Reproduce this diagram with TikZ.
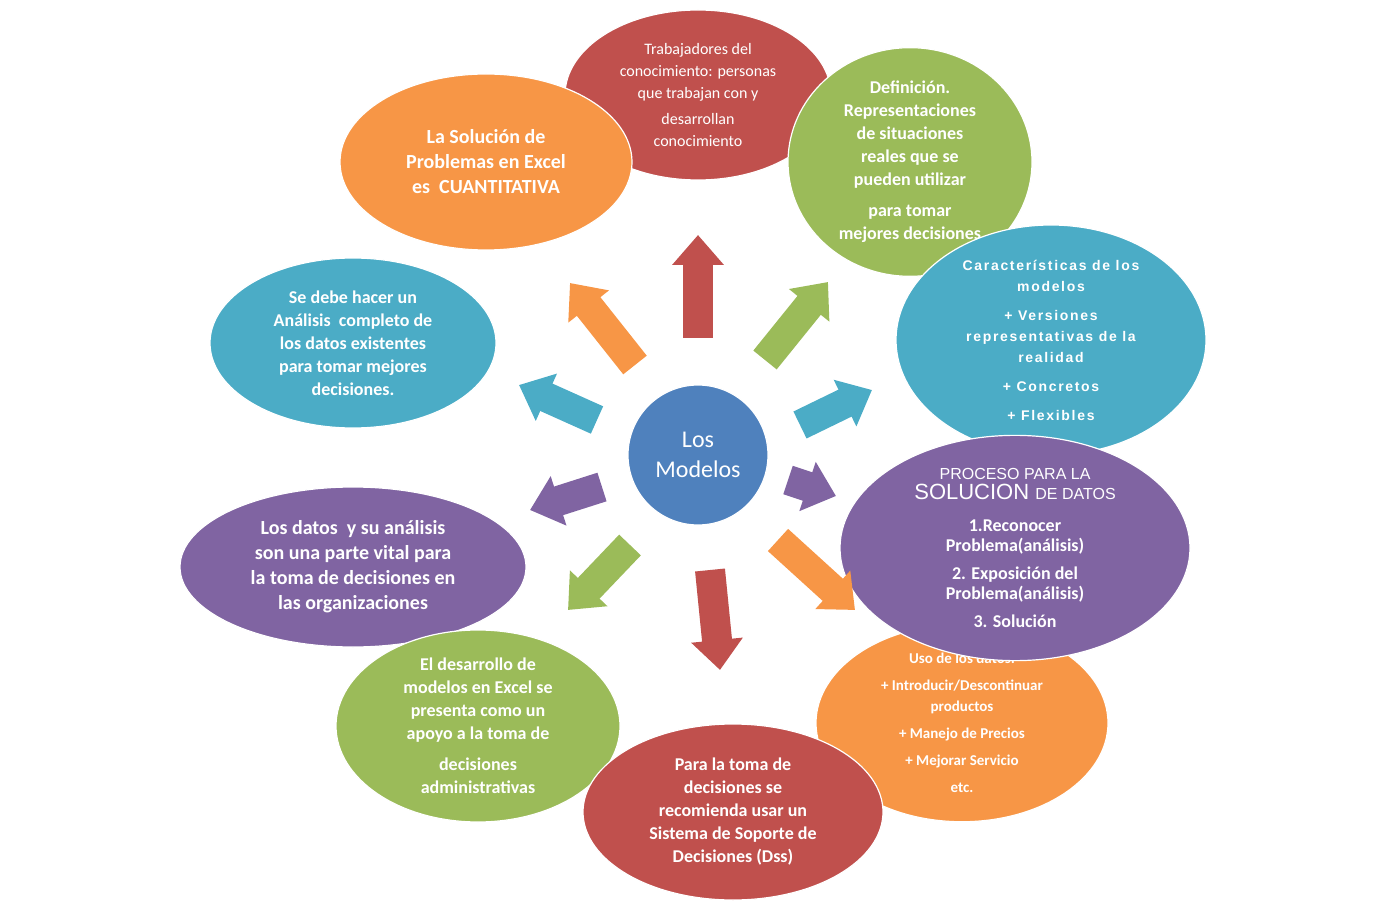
\documentclass[tikz,border=0pt]{standalone}
\usepackage{fontspec}
\setmainfont{Carlito}
\newfontfamily\wide{Liberation Sans}
\usetikzlibrary{shapes.geometric,arrows.meta}
\definecolor{modRed}{HTML}{C0504D}
\definecolor{modOrange}{HTML}{F79646}
\definecolor{modGreen}{HTML}{9BBB59}
\definecolor{modTeal}{HTML}{4BACC6}
\definecolor{modPurple}{HTML}{8064A2}
\definecolor{modBlue}{HTML}{4F81BD}

\begin{document}
\begin{tikzpicture}[x=0.5pt, y=-0.5pt,
    bubble/.style={ellipse, draw=white, line width=0.6pt, text=white, align=center, inner sep=0pt},
    blk/.style={line width=15pt, -{Triangle[length=15pt, width=25pt]}}
]
\useasboundingbox (0,0) rectangle (1398,909);
% bubbles
\node[bubble, fill=modRed, minimum width=133pt, minimum height=85pt, font=\fontsize{8}{11}\selectfont] (work) at (698,95)
    {Trabajadores del\\conocimiento: personas\\que trabajan con y\\[2pt] desarrollan\\conocimiento};
\node[bubble, fill=modOrange, minimum width=146pt, minimum height=88pt, font=\bfseries\fontsize{10}{12.5}\selectfont] (excel) at (486,162)
    {La Solución de\\Problemas en Excel\\es\ \ CUANTITATIVA};
\node[bubble, fill=modGreen, minimum width=122pt, minimum height=85pt, font=\bfseries\fontsize{9}{11.5}\selectfont] (defin) at (910,162)
    {Definición.\\Representaciones\\de situaciones\\reales que se\\pueden utilizar\\[4pt] para tomar\\mejores decisiones};
\node[bubble, fill=modTeal, minimum width=155pt, minimum height=115pt, font=\wide\bfseries\fontsize{7}{10.5}\selectfont] (carac) at (1051,340)
    {\addfontfeature{LetterSpace=12}Características de los\\ \addfontfeature{LetterSpace=12}modelos\\[4pt]
     \addfontfeature{LetterSpace=12}+ Versiones\\ \addfontfeature{LetterSpace=12}representativas de la\\ \addfontfeature{LetterSpace=12}realidad\\[4pt]
     \addfontfeature{LetterSpace=12}+ Concretos\\[4pt] \addfontfeature{LetterSpace=12}+ Flexibles};
\node[bubble, fill=modOrange, minimum width=146pt, minimum height=88pt, font=\bfseries\fontsize{7.5}{10.5}\selectfont] (uso) at (962,723)
    {Uso de los datos:\\[3pt] + Introducir/Descontinuar\\productos\\[3pt] + Manejo de Precios\\[3pt] + Mejorar Servicio\\[3pt] etc.};
\node[bubble, fill=modPurple, minimum width=175pt, minimum height=95pt, font=\bfseries\fontsize{9}{10}\selectfont] (proc) at (1015,548)
    {\wide\mdseries\fontsize{8}{11}\selectfont PROCESO PARA LA\\ \wide\mdseries\fontsize{11}{12}\selectfont SOLUCION {\fontsize{8}{11}\selectfont DE DATOS}\\[6pt]
     1.Reconocer\\Problema(análisis)\\[4pt] 2. Exposición del\\Problema(análisis)\\[4pt] 3. Solución};
\node[bubble, fill=modTeal, minimum width=143pt, minimum height=85pt, font=\bfseries\fontsize{9}{11.5}\selectfont] (anal) at (353,343)
    {Se debe hacer un\\Análisis\ \ completo de\\los datos existentes\\para tomar mejores\\decisiones.};
\node[bubble, fill=modPurple, minimum width=173pt, minimum height=80pt, font=\bfseries\fontsize{10}{12.5}\selectfont] (datos) at (353,567)
    {Los datos\ \ y su análisis\\son una parte vital para\\la toma de decisiones en\\las organizaciones};
\node[bubble, fill=modGreen, minimum width=142pt, minimum height=88pt, font=\bfseries\fontsize{9}{11.5}\selectfont] (desa) at (478,726)
    {El desarrollo de\\modelos en Excel se\\presenta como un\\apoyo a la toma de\\[4pt] decisiones\\administrativas};
\node[bubble, fill=modRed, minimum width=150pt, minimum height=88pt, font=\bfseries\fontsize{9}{11.5}\selectfont] (dss) at (733,812)
    {Para la toma de\\decisiones se\\recomienda usar un\\Sistema de Soporte de\\Decisiones (Dss)};
% centre
\node[circle, fill=modBlue, draw=white, line width=0.6pt, minimum size=70pt, text=white, align=center,
    font=\fontsize{12}{15}\selectfont] (core) at (698,455) {Los\\Modelos};
% arrow ends
\coordinate (a1s) at (698,338); \coordinate (a1e) at (698,235);
\coordinate (a2s) at (765,360); \coordinate (a2e) at (828,282);
\coordinate (a3s) at (800,425); \coordinate (a3e) at (872,390);
\coordinate (a4s) at (788,480); \coordinate (a4e) at (836,496);
\coordinate (a5s) at (778,540); \coordinate (a5e) at (855,610);
\coordinate (a6s) at (710,570); \coordinate (a6e) at (720,670);
\coordinate (a7s) at (630,545); \coordinate (a7e) at (568,610);
\coordinate (a8s) at (602,487); \coordinate (a8e) at (530,510);
\coordinate (a9s) at (597,420); \coordinate (a9e) at (519,385);
\coordinate (a10s) at (635,365); \coordinate (a10e) at (570,283);
\draw[blk, modRed] (a1s) -- (a1e);
\draw[blk, modGreen] (a2s) -- (a2e);
\draw[blk, modTeal] (a3s) -- (a3e);
\draw[blk, modPurple] (a4s) -- (a4e);
\draw[blk, modOrange] (a5s) -- (a5e);
\draw[blk, modRed] (a6s) -- (a6e);
\draw[blk, modGreen] (a7s) -- (a7e);
\draw[blk, modPurple] (a8s) -- (a8e);
\draw[blk, modTeal] (a9s) -- (a9e);
\draw[blk, modOrange] (a10s) -- (a10e);
\end{tikzpicture}
\end{document}
